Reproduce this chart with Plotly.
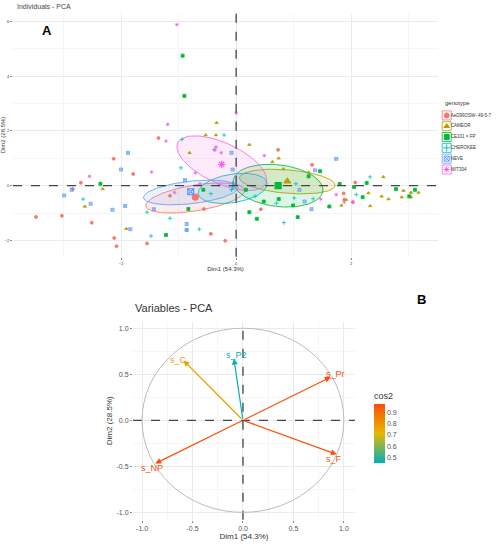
import numpy as np
import plotly.graph_objects as go
from plotly.colors import sample_colorscale

# ---- panel A: individuals ----
genotypes = ["AeD99OSW- 49-5-7", "CAMEOR", "CE101 \u00d7 FP", "CHEROKEE", "NEVE", "WIT304"]
colors = ["#F8766D", "#B79F00", "#00BA38", "#00BFC4", "#619CFF", "#F564E3"]
symbols = ["circle", "triangle-up", "square", "cross-thin-open", "square-x-open", "asterisk-open"]

pts_x = [
    [-3.48, -3.03, -2.84, -2.70, -2.51, -2.13, -1.79, -2.12, -2.08, -1.55, -1.35, -1.15, -0.56, -0.44, -0.19, 0.73, 0.16, 0.43, 1.32, 1.87, 2.07, 2.03, 1.88],
    [-2.32, -2.63, -1.91, -0.81, -0.53, -0.34, -0.35, 0.23, 0.63, 0.74, 0.82, 1.26, 1.83, 2.30, 2.33, 2.56, 2.53, 2.65, 2.88, 2.91, 3.04, 3.04, 3.17, 1.91],
    [-0.93, -0.90, -2.36, -1.22, -0.83, -0.57, 0.23, 0.36, 0.17, 0.48, 0.74, 0.99, 1.07, 1.46, 1.62, 1.80, 2.05, 2.27, 2.20, 2.78, 3.11, 3.01, 1.26],
    [-2.66, -0.94, -0.21, -0.96, -1.55, -1.48, -1.15, -0.86, -0.64, -0.44, -0.38, -0.08, 0.33, 0.70, 0.83, 1.01, 1.04, 2.09, 2.33, 1.34],
    [-2.99, -2.86, -2.53, -2.15, -2.00, -1.88, -1.93, -1.84, -1.43, -0.89, -0.86, -0.86, -0.08, -0.06, 1.19, 1.31, 1.37, 1.10, 1.74],
    [-1.03, -1.19, -1.22, -2.55, -1.47, -1.07, -0.71, -0.35, -0.37, -0.26, 0.00, 0.49, -0.63, -0.30, 1.47, 1.74, 1.88, 2.03],
]
pts_y = [
    [-1.14, -1.10, -0.12, 0.11, -1.35, 0.98, 0.43, -1.91, -2.21, -2.11, 1.74, -0.37, -0.85, -1.76, -2.01, 1.31, -0.15, -0.86, 0.76, -0.28, 0.12, -0.60, -0.51],
    [-0.12, -0.76, -1.57, 1.20, 1.85, 2.30, 1.85, 1.50, 0.87, 1.00, 0.61, 0.49, -0.72, -0.27, -0.74, 0.32, -0.39, -0.49, -0.42, -0.18, -0.25, -0.42, -0.25, -0.51],
    [4.75, 3.28, 0.07, -1.80, -0.85, -0.15, -0.97, -1.21, -0.15, -0.58, -0.49, -0.72, -1.15, 0.53, -0.76, 0.06, -0.05, 0.10, -0.42, -0.12, -0.15, -0.39, 0.34],
    [-0.49, 1.69, 1.85, 0.65, -0.97, -1.84, -1.19, -1.62, -1.59, -0.29, 1.32, -0.15, -0.39, -0.64, -1.35, -0.45, 0.07, -0.33, 0.32, -0.48],
    [-0.36, -0.15, -0.66, -0.88, 0.59, 1.20, -0.74, -1.59, -0.86, 0.20, -1.40, -1.62, 1.20, 0.59, -0.58, -0.86, 0.56, -0.15, 0.98],
    [5.88, 2.24, 1.63, 0.34, 0.50, -0.25, 0.47, 1.41, 1.30, 1.20, 2.65, 1.10, 0.07, 0.02, -0.49, -0.33, -0.60, -0.60],
]
# group means and ellipse parameters (centre, half-extents, correlation)
cent_x = [-0.71, 0.89, 0.73, -0.06, -0.79, -0.25]
cent_y = [-0.42, 0.16, 0.00, 0.00, -0.22, 0.78]
ell_sx = [0.86, 0.83, 0.78, 0.60, 0.82, 0.78]
ell_sy = [0.55, 0.45, 0.78, 0.55, 0.45, 1.00]
ell_r = [0.5, -0.3, -0.2, 0.3, 0.4, -0.6]
ell_cy = [-0.45, 0.15, 0.0, -0.1, -0.25, 0.82]

# ---- panel B: variables ----
var_names = ["s_Pr", "s_F", "s_NP", "s_C", "s_P2"]
var_x = [0.87, 0.93, -0.87, -0.59, -0.09]
var_y = [0.47, -0.37, -0.47, 0.65, 0.67]
var_cos2 = [0.97, 0.96, 0.97, 0.77, 0.46]
cscale = [[0, "#00AFBB"], [0.5, "#E7B800"], [1, "#FC4E07"]]
cmin, cmax = 0.45, 0.97

fig = go.Figure()

t = np.linspace(0, 2 * np.pi, 120)
for i, g in enumerate(genotypes):
    ex = cent_x[i] + ell_sx[i] * np.cos(t)
    ey = ell_cy[i] + ell_sy[i] * (ell_r[i] * np.cos(t) + np.sqrt(1 - ell_r[i] ** 2) * np.sin(t))
    fig.add_trace(go.Scatter(x=ex, y=ey, mode="lines", fill="toself", fillcolor=colors[i],
                             opacity=0.13, line=dict(color=colors[i], width=1),
                             showlegend=False, hoverinfo="skip"))
    fig.add_trace(go.Scatter(x=ex, y=ey, mode="lines", line=dict(color=colors[i], width=1),
                             opacity=0.8, showlegend=False, hoverinfo="skip"))
for i, g in enumerate(genotypes):
    fig.add_trace(go.Scatter(x=pts_x[i], y=pts_y[i], mode="markers", name=g, showlegend=False,
                             marker=dict(color=colors[i], symbol=symbols[i], size=3,
                                         line=dict(color=colors[i], width=0.8))))
    fig.add_trace(go.Scatter(x=[cent_x[i]], y=[cent_y[i]], mode="markers", showlegend=False,
                             marker=dict(color=colors[i], symbol=symbols[i], size=6,
                                         line=dict(color=colors[i], width=1.2))))

# compact legend drawn on its own small axis
idx = list(range(len(genotypes)))
fig.add_trace(go.Scatter(x=[1] * len(idx), y=idx, xaxis="x3", yaxis="y3", mode="markers",
                         showlegend=False, hoverinfo="skip", cliponaxis=False,
                         marker=dict(symbol="square", size=9, color="rgba(255,255,255,0)",
                                     line=dict(color=colors, width=0.8))))
fig.add_trace(go.Scatter(x=[1] * len(idx), y=idx, xaxis="x3", yaxis="y3", mode="markers+text",
                         text=genotypes, textposition="middle right", cliponaxis=False,
                         textfont=dict(size=4.5, color="#333"), showlegend=False, hoverinfo="skip",
                         marker=dict(symbol=symbols, size=5, color=colors,
                                     line=dict(color=colors, width=1))))

# colorbar carrier
fig.add_trace(go.Scatter(x=[0], y=[0], xaxis="x2", yaxis="y2", mode="markers", showlegend=False,
                         marker=dict(color=[cmin], colorscale=cscale, cmin=cmin, cmax=cmax, size=0.1, opacity=0,
                                     showscale=True,
                                     colorbar=dict(title=dict(text="cos2", font=dict(size=9), side="top"),
                                                   x=0.728, xanchor="left", y=0.225, yanchor="middle",
                                                   len=0.17, thickness=11, outlinewidth=0,
                                                   tickvals=[0.5, 0.6, 0.7, 0.8, 0.9],
                                                   tickfont=dict(size=7, color="#555")))))

arrow_cols = sample_colorscale(cscale, [(c - cmin) / (cmax - cmin) for c in var_cos2])
lab_dx = [0.05, -0.03, -0.03, -0.05, 0.03]
lab_dy = [0.03, -0.05, -0.05, 0.0, 0.04]
for i, v in enumerate(var_names):
    fig.add_annotation(x=var_x[i], y=var_y[i], ax=0, ay=0, xref="x2", yref="y2", axref="x2", ayref="y2",
                       showarrow=True, arrowhead=2, arrowsize=1, arrowwidth=1.2, arrowcolor=arrow_cols[i], text="")
    fig.add_annotation(x=var_x[i] + lab_dx[i], y=var_y[i] + lab_dy[i], xref="x2", yref="y2", text=v,
                       showarrow=False, font=dict(size=9, color=arrow_cols[i]))

grid = "#EBEBEB"
fig.update_layout(
    width=500, height=550, margin=dict(l=0, r=0, t=0, b=0, autoexpand=False),
    plot_bgcolor="white", paper_bgcolor="white", showlegend=False,
    font=dict(family="Liberation Sans, Arial", color="#333"),
    xaxis=dict(domain=[0.026, 0.876], range=[-3.88, 3.51], tickvals=[-2, 0, 2], showgrid=True,
               gridcolor=grid, zeroline=False, tickfont=dict(size=4), ticks="outside", ticklen=2,
               tickcolor="#888", minor=dict(dtick=1, showgrid=True, gridcolor="#F5F5F5"),
               title=dict(text="Dim1 (54.3%)", font=dict(size=6), standoff=2), anchor="y"),
    yaxis=dict(domain=[0.533, 0.976], range=[-2.6, 6.3], tickvals=[-2, 0, 2, 4, 6], showgrid=True,
               gridcolor=grid, zeroline=False, tickfont=dict(size=4), ticks="outside", ticklen=2,
               tickcolor="#888", minor=dict(dtick=1, showgrid=True, gridcolor="#F5F5F5"),
               title=dict(text="Dim2 (28.5%)", font=dict(size=6), standoff=2), anchor="x"),
    xaxis2=dict(domain=[0.266, 0.71], range=[-1.09, 1.11], tickvals=[-1, -0.5, 0, 0.5, 1],
                ticktext=["-1.0", "-0.5", "0.0", "0.5", "1.0"], gridcolor=grid, zeroline=False,
                ticks="outside", ticklen=2, tickcolor="#888", tickfont=dict(size=7, color="#555"),
                minor=dict(dtick=0.25, showgrid=True, gridcolor="#F5F5F5"),
                title=dict(text="Dim1 (54.3%)", font=dict(size=8), standoff=0), anchor="y2"),
    yaxis2=dict(domain=[0.055, 0.415], range=[-1.08, 1.07], tickvals=[-1, -0.5, 0, 0.5, 1],
                ticktext=["-1.0", "-0.5", "0.0", "0.5", "1.0"], gridcolor=grid, zeroline=False,
                ticks="outside", ticklen=2, tickcolor="#888", tickfont=dict(size=7, color="#555"),
                minor=dict(dtick=0.25, showgrid=True, gridcolor="#F5F5F5"),
                title=dict(text="Dim2 (28.5%)", font=dict(size=8), standoff=2), anchor="x2"),
    xaxis3=dict(domain=[0.886, 0.96], range=[0, 10], visible=False, anchor="y3"),
    yaxis3=dict(domain=[0.682, 0.8], range=[5.5, -0.5], visible=False, anchor="x3"),
)

# reference lines
for xr, yr in [("x", "y"), ("x2", "y2")]:
    fig.add_shape(type="line", xref=xr + " domain", yref=yr,
                  x0=0, x1=1, y0=0, y1=0, line=dict(color="#444", width=1.3, dash="dash"))
    fig.add_shape(type="line", xref=xr, yref=yr + " domain",
                  x0=0, x1=0, y0=0, y1=1, line=dict(color="#444", width=1.3, dash="dash"))
fig.add_shape(type="circle", xref="x2", yref="y2", x0=-1, x1=1, y0=-1, y1=1,
              line=dict(color="#BBBBBB", width=1))

fig.add_annotation(text="genotype", x=0.886, y=0.812, xref="paper", yref="paper",
                   xanchor="left", yanchor="middle", showarrow=False, font=dict(size=6, color="#333"))
fig.add_annotation(text="Individuals - PCA", x=0.03, y=0.998, xref="paper", yref="paper",
                   xanchor="left", yanchor="top", showarrow=False, font=dict(size=7, color="#444"))
fig.add_annotation(text="<b>A</b>", x=0.08, y=0.945, xref="paper", yref="paper",
                   xanchor="left", yanchor="middle", showarrow=False, font=dict(size=13, color="black"))
fig.add_annotation(text="Variables - PCA", x=0.266, y=0.44, xref="paper", yref="paper",
                   xanchor="left", yanchor="middle", showarrow=False, font=dict(size=11, color="#333"))
fig.add_annotation(text="<b>B</b>", x=0.83, y=0.455, xref="paper", yref="paper",
                   xanchor="left", yanchor="middle", showarrow=False, font=dict(size=13, color="black"))

# drop the browser's default 8px body margin so the figure sits at the page origin
fig.write_html("out.html", config={"displayModeBar": False},
               post_script="document.body.style.margin='0';")
